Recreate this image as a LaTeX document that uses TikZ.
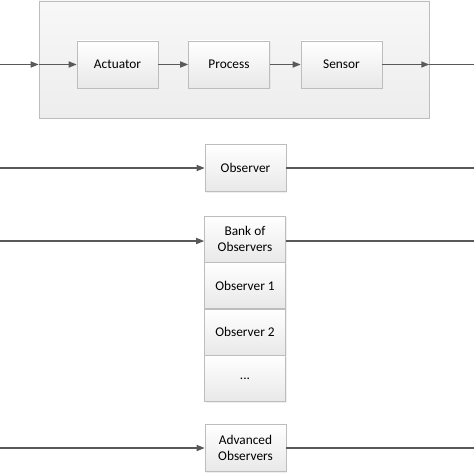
\documentclass[tikz,border=0pt]{standalone}
\usepackage{fontspec}
\setmainfont{Carlito}
\usetikzlibrary{arrows.meta,positioning,shadows}

\definecolor{linegray}{HTML}{595959}
\definecolor{boxedge}{HTML}{BDBDBD}

\tikzset{
	block/.style={draw=boxedge, top color=white, bottom color=black!9, align=center,
		minimum width=60.75pt, minimum height=35.25pt, inner sep=1pt,
		drop shadow={shadow xshift=0.8pt, shadow yshift=-0.8pt, fill=black!12}},
	cell/.style={block, minimum height=34.5pt, drop shadow={opacity=0}},
	sig/.style={draw=linegray, line width=1.1pt},
	arr/.style={sig, -{Triangle[length=6pt,width=4.5pt]}}
}

\begin{document}
\begin{tikzpicture}[x=0.75pt, y=-0.75pt, font=\fontsize{10}{12}\selectfont]
	
	\useasboundingbox (0,0) rectangle (474,474);
	
	\node[draw=boxedge, top color=black!3, bottom color=black!7, minimum width=292.5pt, minimum height=87.75pt,
		drop shadow={shadow xshift=0.8pt, shadow yshift=-0.8pt, fill=black!12}] (plant) at (234, 59.5) {};
	
	\node[block] (act) at (117.5, 64.5) {Actuator};
	\node[block] (proc) at (229, 64.5) {Process};
	\node[block] (sens) at (341.5, 64.5) {Sensor};
	
	\node[block] (obs) at (245.5, 168) {Observer};
	
	\node[cell] (bank) at (245, 239) {Bank of\\Observers};
	\node[cell, below=0pt of bank] (obs1) {Observer 1};
	\node[cell, below=0pt of obs1] (obs2) {Observer 2};
	\node[cell, below=0pt of obs2] (dots) {...};
	
	\node[block] (adv) at (245.5, 448) {Advanced\\Observers};
	
	\coordinate (u) at (0, 64.5);
	\coordinate (y) at (474, 64.5);
	\coordinate (u2) at (0, 168);
	\coordinate (y2) at (474, 168);
	\coordinate (u3) at (0, 241);
	\coordinate (y3) at (474, 241);
	\coordinate (u4) at (0, 448);
	\coordinate (y4) at (474, 448);
	
	\draw[arr] (u) -- (u -| plant.west);
	\draw[arr] (u -| plant.west) -- (act);
	\draw[arr] (act) -- (proc);
	\draw[arr] (proc) -- (sens);
	\draw[arr] (sens) -- (sens -| plant.east);
	\draw[sig] (sens -| plant.east) -- (y);
	
	\draw[arr] (u2) -- (obs);
	\draw[sig] (obs) -- (y2);
	
	\draw[arr] (u3) -- (u3 -| bank.west);
	\draw[sig] (u3 -| bank.east) -- (y3);
	
	\draw[arr] (u4) -- (adv);
	\draw[sig] (adv) -- (y4);
	
\end{tikzpicture}
\end{document}
